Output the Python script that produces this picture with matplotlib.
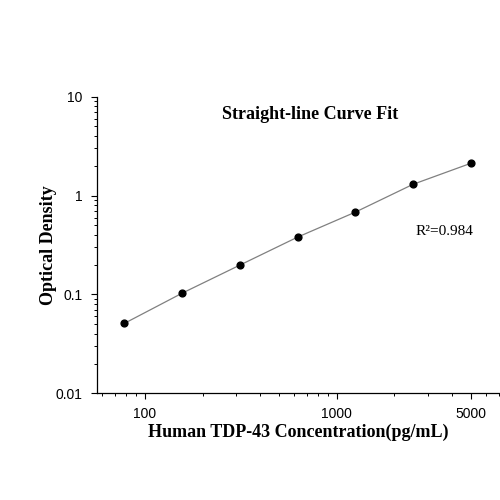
import numpy as np
import matplotlib
matplotlib.use("Agg")
from matplotlib import pyplot as plt
from matplotlib.ticker import LogLocator, NullFormatter, FixedLocator, FixedFormatter

# standard curve
conc = [78.125, 156.25, 312.5, 625, 1250, 2500, 5000]
od = [0.051, 0.103, 0.198, 0.38, 0.68, 1.30, 2.12]

x_ticks = [100, 1000, 5000]
x_labels = ["100", "1000", "5000"]
y_ticks = [0.01, 0.1, 1, 10]
y_labels = ["0.01", "0.1", "1", "10"]

serif = ["Liberation Serif", "DejaVu Serif"]
sans = ["Liberation Sans", "DejaVu Sans"]

fig = plt.figure(figsize=(5, 5), dpi=100)
ax = fig.add_axes([0.1934, 0.2134, 0.8066, 0.5932])

ax.plot(conc, od, color="#808080", lw=0.9, zorder=1)
ax.scatter(conc, od, s=24, color="black", zorder=2)

ax.set_xscale("log")
ax.set_yscale("log")
ax.set_xlim(56, 7100)
ax.set_ylim(0.01, 10)

ax.xaxis.set_major_locator(FixedLocator(x_ticks))
ax.xaxis.set_major_formatter(FixedFormatter(x_labels))
ax.xaxis.set_minor_locator(LogLocator(base=10, subs=np.arange(2, 10)))
ax.xaxis.set_minor_formatter(NullFormatter())
ax.yaxis.set_major_locator(FixedLocator(y_ticks))
ax.yaxis.set_major_formatter(FixedFormatter(y_labels))
ax.yaxis.set_minor_locator(LogLocator(base=10, subs=np.arange(2, 10)))
ax.yaxis.set_minor_formatter(NullFormatter())

ax.spines["top"].set_visible(False)
ax.spines["right"].set_visible(False)
for s in ["left", "bottom"]:
    ax.spines[s].set_linewidth(0.9)

ax.tick_params(which="major", direction="out", length=4, width=0.8, labelsize=10, pad=6)
ax.tick_params(which="minor", direction="out", length=2.5, width=0.7)
for lab in ax.get_xticklabels() + ax.get_yticklabels():
    lab.set_family(sans)

ax.set_xlabel("Human TDP-43 Concentration(pg/mL)", fontsize=13, fontweight="bold",
              family=serif, labelpad=2)
ax.set_ylabel("Optical Density", fontsize=13, fontweight="bold", family=serif, labelpad=-1)

ax.text(0.53, 0.97, "Straight-line Curve Fit", transform=ax.transAxes, ha="center",
        va="top", fontsize=13, fontweight="bold", family=serif)
ax.text(0.862, 0.545, "R²=0.984", transform=ax.transAxes, ha="center", va="center",
        fontsize=11, family=serif)

fig.savefig("out.png", dpi=100)
